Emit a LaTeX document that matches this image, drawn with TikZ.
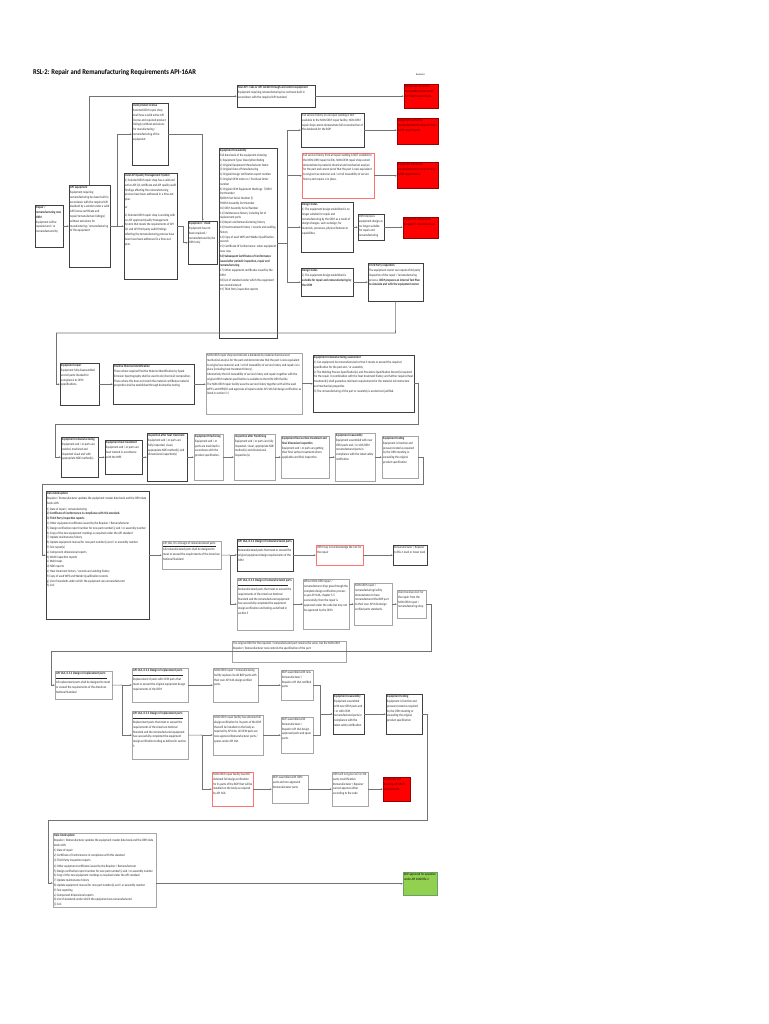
\documentclass[tikz,border=0pt]{standalone}
\usepackage{fontspec}
\setmainfont{Carlito}[FakeStretch=0.82]
\newfontfamily\titlefont{Carlito}[FakeStretch=0.9]
\usetikzlibrary{arrows.meta,shadows}
\tikzset{
  base/.style={anchor=north west, inner sep=1pt, font=\fontsize{3.4}{4.8}\selectfont, text=black!85},
  bxs/.style={base, draw=black!75, line width=0.45pt, fill=white, drop shadow={shadow xshift=0.6pt,shadow yshift=-0.6pt,fill=black!45,opacity=0.6}},
  lbx/.style={base, draw=black!35, line width=0.4pt, fill=white, drop shadow={shadow xshift=0.5pt,shadow yshift=-0.5pt,fill=black!20,opacity=0.6}},
  pbx/.style={base, draw=red!55, line width=0.45pt, fill=white},
  rbx/.style={base, draw=red!60!black, line width=0.45pt, fill=red, text=red!30!black},
  gbx/.style={base, draw=green!40!black!60, line width=0.4pt, fill={rgb,255:red,146;green,208;blue,80}, text=black},
  cn/.style={draw=black!55, line width=0.55pt, -{Latex[length=2.2pt,width=2pt]}},
  cnn/.style={draw=black!55, line width=0.55pt},
}
\newcommand\bx[7][bxs]{%
  \node[#1] (#2) at (#3,#4) {\parbox[c][\dimexpr#6pt-2pt\relax][t]{\dimexpr#5pt-2pt\relax}{\raggedright #7}};}
\newcommand\hd[1]{\textbf{#1}\\}
\newcommand\apihd[1]{\textbf{#1}\\[-0.6pt]\rule{0.92\linewidth}{0.9pt}\\}
\begin{document}
\begin{tikzpicture}[x=1pt,y=-1pt]
\useasboundingbox (0,0) rectangle (768,1024);
\fill[white] (0,0) rectangle (768,1024);

\node[anchor=west, inner sep=0pt, font=\titlefont\bfseries\fontsize{7.3}{8}\selectfont] (title) at (33,73) {RSL-2: Repair and Remanufacturing Requirements API-16AR};
\node[anchor=west, inner sep=0pt, font=\fontsize{2.5}{3}\selectfont] (rev) at (416,75) {Revision 0};

% ---------- top section ----------
\bx{nonapi}{237}{85}{78}{22}{\hd{Non API - fabs or API fab Bill through and control equipment}Equipment requiring remanufacturing has not been built in accordance with the required API standard.}
\bx[rbx]{red1}{404}{84}{34}{24}{Equipment cannot be remanufactured to meet API 16AR requirements}
\bx{repair}{35}{205}{28}{42}{\hd{Repair / remanufacturing new OEM}Equipment will be repaired and / or remanufactured by}
\bx{apieq}{69}{185}{41}{82}{\hd{API equipment}Equipment requiring remanufacturing has been built in accordance with the required API standard by a vendor under a valid API license certificate and repair/remanufacture listing(s) without exclusions for manufacturing / remanufacturing of the equipment}
\bx{vpl}{132}{103}{36}{62}{\hd{Valid product license}Selected OEM repair shop shall have a valid active API license and required product listing(s) without exclusions for manufacturing / remanufacturing of the equipment}
\bx{qms}{124}{173}{53}{106}{\hd{Valid API Quality Management System}1) Selected OEM repair shop has a valid and active API Q1 certificate and API quality audit findings affecting the remanufacturing process have been addressed in a time-out plan.\\[3pt] or\\[3pt] 2) Selected OEM repair shop is working with an API approved Quality Management System that meets the requirements of API Q1 and API third party audit findings affecting the remanufacturing process have been have been addressed in a time-out plan.}
\bx{echeck}{188}{221}{29}{43}{\hd{Equipment - check}Equipment has not been repaired / remanufactured by the OEM only}
\bx{trace}{219}{148}{58}{190}{\hd{Equipment traceability}Full data book of the equipment showing:\\
1) Equipment Type/ Description/Rating\\
2) Original Equipment Manufacturer Name\\
3) Original Date of Manufacturing\\
4) Original Design Verification report number\\
5) Original OEM order no / Purchase Order number\\
6) Original OEM Equipment Markings: 7)OEM Part Number\\
8)OEM Part Serial Number (i)\\ 9)OEM Assembly Part Number\\
10) OEM Assembly Serial Number\\
11) Maintenance history, including list of replacement parts\\
12) Repair and Remanufacturing history\\
13) Heat treatment history / records and welding history\\
14) Copy of used WPS and Welder Qualification records\\
15) Certificate Of Conformance: when equipment new, new,\\
\textbf{16) Subsequent Certificates of Conformance issued after periodic inspection, repair and remanufacturing}\\
17) Other equipment certificates issued by the OEM\\
18) List of standard under which the equipment was manufactured\\
19) Third Party inspection reports}
\bx{t1}{301}{113}{63}{34}{Full service history on all repair welding is NOT available to the NON-OEM repair facility. NON-OEM repair shop cannot demonstrate full reconstruction of the databook for the BOP}
\bx[rbx]{red2}{397}{118}{41}{26}{Equipment cannot be remanufactured to meet API 16A / 16AR requirements}
\bx[pbx]{t2}{302}{153}{72}{45}{Full service history from all repair welding is NOT available to the NON-OEM repair facility. NON-OEM repair shop cannot demonstrate by material chemical and mechanical analysis for the part and cannot proof that the part is new equivalent to original raw material; and / or full traceability of service history and repairs is in place.}
\bx[rbx]{red3}{397}{162}{41}{26}{Equipment cannot be remanufactured to meet API 16A / 16AR requirements}
\bx{t3}{301}{202}{52}{50}{\hd{Design status}1) The equipment design established is no longer suitable for repair and remanufacturing by the OEM as a result of design changes, such as design, for materials, processes, physical features or capabilities}
\bx{t3b}{358}{214}{26}{26}{OEM declares equipment design as no longer suitable for repair and remanufacturing}
\bx[rbx]{red4}{403}{217}{35}{21}{Equipment needs to be scrapped / remanufactured}
\bx{t4}{301}{268}{52}{28}{\hd{Design status}2) The equipment design established is \textbf{suitable for repair and remanufacturing by the OEM}}
\bx{tpi}{368}{263}{55}{38}{\hd{Third Party inspection}The equipment owner can require third party inspection of the repair / remanufacturing process. \textbf{OEM prepares an internal Test Plan to simulate and with the equipment owner}}

% ---------- repair section ----------
\bx{erep}{60}{363}{39}{42}{\hd{Equipment repair}Equipment fully disassembled and all parts checked for compliance to OEM specifications.}
\bx{pmi}{113}{364}{81}{40}{\hd{Positive Material Identification}There where required Positive Material Identification by Spark Emission Spectrography shall be used to do (chemical) composition. There where this does not match the material certificates material properties shall be established through destructive testing}
\bx[lbx]{ntext}{206}{353}{96}{61}{NON-OEM repair shop reconstructs a databook by material chemical and mechanical analysis for the part and demonstrates that the part is new equivalent to original raw material; and / or full traceability of service history and repairs is in place (including heat treatment history).\\ Alternatively the full traceability of service history and repairs together with the original OEM material specification is available to the NON-OEM facility.\\ The NON-OEM repair facility uses the service history together with all the used WPS's and WPQR's and approves all repairs under API 16A full design verification as listed in section 5.5}
\bx{assess}{313}{355}{101}{57}{\hd{Equipment remanufacturing assessment}1) Can equipment be remanufactured so that it meets or exceed the required specification for the part and / or assembly.\\ 2) The Welding Process Specification(s) and Procedure Qualification Record(s) required for the repair. In combination with the heat treatment history and further required heat treatment(s) shall guarantee minimum requirements for the material microstructure and mechanical properties.\\ 3) The remanufacturing of the part or assembly is economical justified.}

% ---------- row ----------
\bx{r1}{61}{437}{37}{40}{\hd{Equipment remanufacturing}Equipment and / or parts are welded, machined and inspected visual and with appropriate NDE method(s).}
\bx{r2}{105}{440}{37}{34}{\hd{Equipment heat treatment}Equipment and / or parts are heat treated in accordance with the WPS}
\bx{r3}{147}{433}{40}{48}{\hd{Inspection after heat treatment}Equipment and / or parts are fully inspected, visual, appropriate NDE method(s) and dimensional inspection(s)}
\bx[lbx]{r4}{194}{434}{29}{46}{\hd{Equipment Machining}Equipment and / or parts are machined in accordance with the product specification.}
\bx[lbx]{r5}{234}{434}{41}{46}{\hd{Inspection after Machining}Equipment and / or parts are fully inspected, visual, appropriate NDE method(s) and dimensional inspection(s).}
\bx[lbx]{r6}{281}{436}{48}{42}{\hd{Equipment final surface treatment and final dimension inspection}Equipment and / or parts are getting their final surface treatment where applicable and final inspection.}
\bx[lbx]{r7}{335}{433}{40}{48}{\hd{Equipment reassembly}Equipment assembled with new OEM parts and / or with OEM remanufactured parts in compliance with the latest safety notification}
\bx[lbx]{r8}{382}{436}{36}{42}{\hd{Equipment testing}Equipment is function and pressure tested as required by the OEM meeting or exceeding the original product specification}

% ---------- data book 1 ----------
\bx{db1}{46}{491}{103}{128}{\hd{Data book update}Repairer / Remanufacturer updates the equipment master data book and the OEM data book with:\\[1pt]
1) Date of repair / remanufacturing\\
\textbf{2) Certificate of Conformance in compliance with this standard.}\\
\textbf{3) Third Party inspection reports}\\
4) Other equipment certificates issued by the Repairer / Remanufacturer\\
5) Design verification report number for new part number(s) and / or assembly number\\
6) Copy of the new equipment markings as required under the API standard\\
7) Update maintenance history\\
8) Update equipment manual for new part number(s) and / or assembly number\\
9) Test report(s)\\
a) Component dimensional reports\\
b) Weld inspection reports\\
c) Weld maps\\
d) NDE reports\\
e) Heat treatment history / records and welding history\\
f) Copy of used WPS and Welder Qualification records\\
g) List of standards under which the equipment was remanufactured\\
h) CoC}
\bx[lbx]{rm0}{162}{541}{59}{28}{\underline{API 16A, 8.5.2 Design of remanufactured parts}\\ All remanufactured parts shall be designed to meet or exceed the requirements of the American National Standard}
\bx{rm1}{237}{539}{56}{32}{\apihd{API 16A, 8.5.2 Design of remanufactured parts}Remanufactured parts that meet or exceed the original equipment design requirements of the OEM}
\bx[lbx]{rm2}{237}{578}{56}{52}{\apihd{API 16A, 8.5.3 Design of remanufactured parts}Remanufactured parts that meet or exceed the requirements of the American National Standard and the remanufactured equipment has successfully completed the equipment design verification and testing as defined in section 5}
\bx[pbx]{oemack}{316}{545}{47}{20}{OEM may not acknowledge the CoC for the repair}
\bx{rsl1}{393}{545}{34}{20}{Remanufacturer / Repairer to RSL-1 level or lower level}
\bx[lbx]{when}{303}{579}{46}{50}{When NON-OEM repair / remanufacturer shop goes through the complete design verification process as per API 16A, chapter 5.5 successfully, then the repair is approved under the code but may not be approved by the OEM.}
\bx[lbx]{nonoem}{354}{583}{38}{42}{NON-OEM repair / remanufacturing facility demonstrates to have remanufactured the BOP part to their own API 16A design verified parts standards.}
\bx[lbx]{client}{397}{590}{29}{28}{Client receives CoC for the repair from the NON-OEM repair / remanufacturing shop}
\bx[lbx]{note}{232}{641}{114}{21}{The original OEM for the repaired / remanufactured part remains the same, but the NON-OEM Repairer / Remanufacturer now controls the specification of the part}

% ---------- replacement parts ----------
\bx[lbx]{rp0}{55}{671}{57}{28}{\apihd{API 16A, 8.5.2 Design of replacement parts}All replacement parts shall be designed to meet or exceed the requirements of the American National Standard}
\bx[lbx]{rp1}{132}{668}{56}{34}{\apihd{API 16A, 8.5.2 Design of replacement parts}Replacement of parts with OEM parts that meet or exceed the original equipment design requirements of the OEM}
\bx[lbx]{rp2}{132}{711}{56}{48}{\apihd{API 16A, 8.5.3 Design of replacement parts}Replacement parts that meet or exceed the requirements of the American National Standard and the remanufactured equipment has successfully completed the equipment design verification testing as defined in section 5}
\bx[lbx]{c1}{213}{668}{45}{34}{NON-OEM repair / remanufacturing facility replaces its old BOP parts with their own API 16A design verified parts.}
\bx[lbx]{c2}{213}{715}{50}{40}{NON-OEM repair facility has obtained full design verification for its parts of the BOP that will be installed on the body as required by API 16A. All OEM parts are now approved Remanufacturer parts / spares under API 16A.}
\bx[pbx]{c3}{212}{772}{41}{34}{NON-OEM repair facility has NOT obtained full design verification for its parts of the BOP that will be installed on the body as required by API 16A.}
\bx[lbx]{d1}{281}{670}{32}{30}{BOP assembled with new Remanufacturer / Repairer API 16A certified parts}
\bx[lbx]{d2}{281}{717}{32}{36}{BOP assembled with Remanufacturer / Repairer API 16A design approved parts and spare parts.}
\bx[lbx]{d3}{272}{775}{36}{28}{BOP assembled with OEM parts and non approved Remanufacturer parts}
\bx[lbx]{e3}{332}{772}{36}{34}{OEM will not give CoC for 3rd party recertification. Remanufacturer / Repairer cannot approve either according to the code}
\bx[rbx]{red5}{383}{777}{27}{24}{Equipment not meeting API 16AR requirements}
\bx{e1}{333}{694}{31}{40}{\hd{Equipment reassembly}Equipment assembled with new OEM parts and / or with OEM remanufactured parts in compliance with the latest safety notification}
\bx{e2}{386}{694}{36}{40}{\hd{Equipment testing}Equipment is function and pressure tested as required by the OEM meeting or exceeding the original product specification}

% ---------- data book 2 ----------
\bx[lbx]{db2}{53}{833}{103}{74}{\hd{Data book update}Repairer / Remanufacturer updates the equipment master data book and the OEM data book with:\\[1pt]
1) Date of repair\\
2) Certificate of Conformance in compliance with this standard\\
3) Third Party inspection reports\\[1pt]
4) Other equipment certificates issued by the Repairer / Remanufacturer\\
5) Design verification report number for new part number(s) and / or assembly number\\
6) Copy of the new equipment markings as required under the API standard\\
7) Update maintenance history\\
8) Update equipment manual for new part number(s) and / or assembly number\\
9) Test reporting\\
a) Component dimensional reports\\
b) List of standards under which the equipment was remanufactured\\
(i) CoC}
\bx[gbx]{green}{403}{872}{34}{23}{BOP approved for operation under API 16AR RSL-2}

% ---------- connectors ----------
\draw[cn] (apieq.north) |- (nonapi.west);
\draw[cn] (nonapi.east) -- (nonapi.east -| red1.west);
\draw[cn] (repair.east) -- (repair.east -| apieq.west);
\draw[cn] (apieq.east) -- (apieq.east -| qms.west);
\coordinate (j1) at (117,226);
\draw[cn] (j1) |- (vpl.west);
\draw[cn] (vpl.east) -| (echeck.north);
\draw[cn] (qms.east) -- ++(6,0) |- (echeck.west);
\draw[cn] (echeck.east) -- (echeck.east -| trace.west);
\coordinate (j2) at (287,243);
\draw[cnn] (trace.east |- j2) -- (j2);
\draw[cn] (j2) |- (t1.west);
\draw[cn] (j2) |- (t2.west);
\draw[cn] (j2) |- (t3.west);
\draw[cn] (j2) |- (t4.west);
\draw[cn] (t1.east) -- (t1.east -| red2.west);
\draw[cn] (t2.east) -- (t2.east -| red3.west);
\draw[cn] (t3.east) -- (t3.east -| t3b.west);
\draw[cn] (t3b.east) -- (t3b.east -| red4.west);
\draw[cn] (t4.east) -- (t4.east -| tpi.west);
\coordinate (k1) at (395.5,333);
\coordinate (k2) at (56,333);
\draw[cnn] (tpi.south) -- (k1) -- (k2);
\draw[cn] (k2) |- (erep.west);
\draw[cn] (erep.east) -- (erep.east -| pmi.west);
\draw[cn] (pmi.east) -- (pmi.east -| ntext.west);
\draw[cn] (ntext.east) -- (ntext.east -| assess.west);
\coordinate (k3) at (418,424);
\coordinate (k4) at (55,424);
\draw[cnn] (assess.east) -| (k3) -- (k4);
\draw[cn] (k4) |- (r1.west);
\foreach \a/\b in {r1/r2,r2/r3,r3/r4,r4/r5,r5/r6,r6/r7,r7/r8}
  \draw[cn] (\a.east) -- (\a.east -| \b.west);
\coordinate (k5) at (423,484);
\coordinate (k6) at (42,484);
\draw[cnn] (r8.east) -| (k5) -- (k6);
\draw[cn] (k6) |- (db1.west);
\draw[cn] (db1.east) -- (db1.east -| rm0.west);
\coordinate (j3) at (230,555);
\draw[cnn] (rm0.east) -- (j3);
\draw[cn] (j3) -- (j3 -| rm1.west);
\draw[cn] (j3) |- (rm2.west);
\draw[cn] (rm1.east) -- (rm1.east -| oemack.west);
\draw[cn] (oemack.east) -- (oemack.east -| rsl1.west);
\draw[cn] (rm2.east) -- (rm2.east -| when.west);
\draw[cn] (when.east) -- (when.east -| nonoem.west);
\draw[cn] (nonoem.east) -- (nonoem.east -| client.west);
\coordinate (k7) at (431,651);
\coordinate (k8) at (51,651);
\draw[cnn] (client.east) -| (k7) -- (k8);
\draw[cn] (k8) |- (rp0.west);
\coordinate (j4) at (122,685);
\draw[cnn] (rp0.east) -- (j4);
\draw[cn] (j4) -- (j4 -| rp1.west);
\draw[cn] (j4) |- (rp2.west);
\draw[cn] (rp1.east) -- (rp1.east -| c1.west);
\draw[cn] (c1.east) -- (c1.east -| d1.west);
\coordinate (j5) at (202,735);
\draw[cnn] (rp2.east) -- (j5);
\draw[cn] (j5) -- (j5 -| c2.west);
\draw[cn] (j5) |- (c3.west);
\draw[cn] (c2.east) -- (c2.east -| d2.west);
\draw[cn] (c3.east) -- (c3.east -| d3.west);
\draw[cn] (d3.east) -- (d3.east -| e3.west);
\draw[cn] (e3.east) -- (e3.east -| red5.west);
\coordinate (j6) at (320,714);
\draw[cnn] (d1.east) -| (j6);
\draw[cnn] (d2.east) -| (j6);
\draw[cn] (j6) -- (j6 -| e1.west);
\draw[cn] (e1.east) -- (e1.east -| e2.west);
\coordinate (k9) at (427,820);
\coordinate (k10) at (48,820);
\coordinate (k11) at (48,883);
\draw[cnn] (e2.east) -| (k9) -- (k10) -- (k11);
\draw[cn] (k11) -- (k11 -| db2.west);
\draw[cn] (db2.east |- green.west) -- (green.west);
\end{tikzpicture}
\end{document}
